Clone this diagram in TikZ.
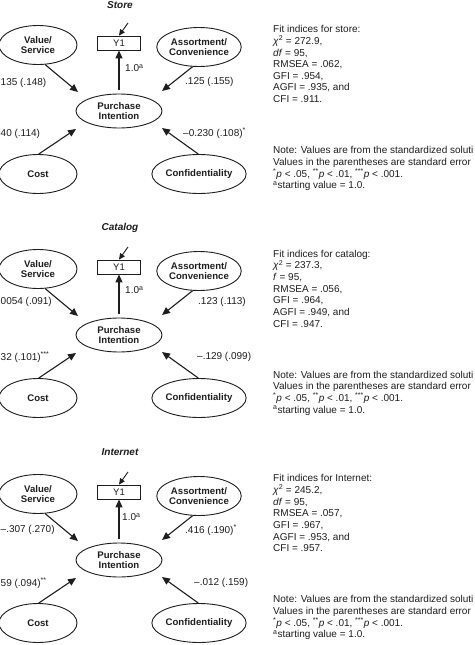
\documentclass[tikz,border=0pt]{standalone}
\usepackage{fontspec}
\setmainfont{Liberation Sans}
\usetikzlibrary{arrows.meta,calc,shapes.geometric}
\definecolor{ink}{RGB}{30,30,30}
\tikzset{
 lat/.style={draw=ink, line width=0.9pt, ellipse, minimum width=78pt, minimum height=39pt, inner sep=0pt, align=center, font=\fontsize{9.6}{10.8}\selectfont\bfseries, text=ink},
 pur/.style={lat, minimum width=86pt, minimum height=34pt},
 obs/.style={draw=ink, line width=0.9pt, rectangle, minimum width=43pt, minimum height=14pt, inner sep=0pt, font=\fontsize{9.5}{10}\selectfont, text=ink},
 arr/.style={draw=ink, line width=1.1pt, -{Triangle[length=8pt,width=7pt]}},
 sarr/.style={draw=ink, line width=0.9pt, -{Triangle[length=6pt,width=5.5pt]}},
 lab/.style={font=\fontsize{10}{12}\selectfont, text=ink, inner sep=0pt},
 ttl/.style={font=\fontsize{10}{12}\selectfont\bfseries\itshape, text=ink, inner sep=0pt},
 blk/.style={font=\fontsize{10}{11.65}\selectfont, text=ink, inner sep=0pt, align=left, anchor=north west},
}
\newcommand{\sempanel}[4]{%
 \node[ttl] (t#2) at (120,{#4+#1}) {#3};
 \node[lat] (vs#2) at (38,{45+#1}) {Value/\\Service};
 \node[lat] (as#2) at (199,{47+#1}) {Assortment/\\Convenience};
 \node[obs] (y#2) at (119,{43+#1}) {Y1};
 \node[pur] (pi#2) at (119,{111+#1}) {Purchase\\Intention};
 \node[lat] (co#2) at (38,{174+#1}) {Cost};
 \node[lat] (cf#2) at (199,{174+#1}) {Confidentiality};
 \coordinate (e#2) at (128,{23+#1});
 \draw[sarr] (e#2) -- (y#2.north);
 \draw[arr] ($(pi#2.north)+(0,-4)$) -- (y#2.south);
 \draw[arr] (vs#2.-70) -- ($(pi#2.center)+(-41,-19)$);
 \draw[arr] (as#2.-108) -- ($(pi#2.center)+(43,-20)$);
 \draw[arr] (co#2.88) -- ($(pi#2.center)+(-43,18)$);
 \draw[arr] (cf#2.92) -- ($(pi#2.center)+(43,17)$);
}
\begin{document}
\begin{tikzpicture}[x=1pt,y=-1pt]
\fill[white] (0,0) rectangle (474,645);
\useasboundingbox (0,0) rectangle (474,645);
\sempanel{0}{s}{Store}{5.5}
\sempanel{224}{c}{Catalog}{3.5}
\sempanel{449}{i}{Internet}{3}
% store labels
\node[lab, anchor=west] (ls1) at (0.5,83) {135 (.148)};
\node[lab, anchor=west] (ls2) at (125,68) {1.0\textsuperscript{a}};
\node[lab, anchor=west] (ls3) at (185,82) {.125 (.155)};
\node[lab, anchor=west] (ls4) at (0.5,134) {40 (.114)};
\node[lab, anchor=west] (ls5) at (183,133) {–0.230 (.108)\textsuperscript{*}};
% catalog labels
\node[lab, anchor=west] (lc1) at (0.5,302) {0054 (.091)};
\node[lab, anchor=west] (lc2) at (125,290) {1.0\textsuperscript{a}};
\node[lab, anchor=west] (lc3) at (198,302) {.123 (.113)};
\node[lab, anchor=west] (lc4) at (0.5,357) {32 (.101)\textsuperscript{***}};
\node[lab, anchor=west] (lc5) at (197,357) {–.129 (.099)};
% internet labels
\node[lab, anchor=west] (li1) at (0.5,530) {–.307 (.270)};
\node[lab, anchor=west] (li2) at (122,517) {1.0\textsuperscript{a}};
\node[lab, anchor=west] (li3) at (185,530) {.416 (.190)\textsuperscript{*}};
\node[lab, anchor=west] (li4) at (0.5,583) {59 (.094)\textsuperscript{**}};
\node[lab, anchor=west] (li5) at (194,583) {–.012 (.159)};
% fit indices
\node[blk] (fs) at (273,25.3) {Fit indices for store:\\\textit{χ}\textsuperscript{2} = 272.9,\\\textit{df} = 95,\\RMSEA = .062,\\GFI = .954,\\AGFI = .935, and\\CFI = .911.};
\node[blk] (fc) at (273,249.8) {Fit indices for catalog:\\\textit{χ}\textsuperscript{2} = 237.3,\\\textit{f} = 95,\\RMSEA = .056,\\GFI = .964,\\AGFI = .949, and\\CFI = .947.};
\node[blk] (fi) at (273,474.3) {Fit indices for Internet:\\\textit{χ}\textsuperscript{2} = 245.2,\\\textit{df} = 95,\\RMSEA = .057,\\GFI = .967,\\AGFI = .953, and\\CFI = .957.};
% notes
\node[blk] (ns) at (273,146.3) {Note: Values are from the standardized soluti\\Values in the parentheses are standard error\\\textsuperscript{*}\textit{p} < .05, \textsuperscript{**}\textit{p} < .01, \textsuperscript{***}\textit{p} < .001.\\\textsuperscript{a}starting value = 1.0.};
\node[blk] (nc) at (273,370.8) {Note: Values are from the standardized soluti\\Values in the parentheses are standard error\\\textsuperscript{*}\textit{p} < .05, \textsuperscript{**}\textit{p} < .01, \textsuperscript{***}\textit{p} < .001.\\\textsuperscript{a}starting value = 1.0.};
\node[blk] (ni) at (273,595.3) {Note: Values are from the standardized soluti\\Values in the parentheses are standard error\\\textsuperscript{*}\textit{p} < .05, \textsuperscript{**}\textit{p} < .01, \textsuperscript{***}\textit{p} < .001.\\\textsuperscript{a}starting value = 1.0.};
\end{tikzpicture}
\end{document}
